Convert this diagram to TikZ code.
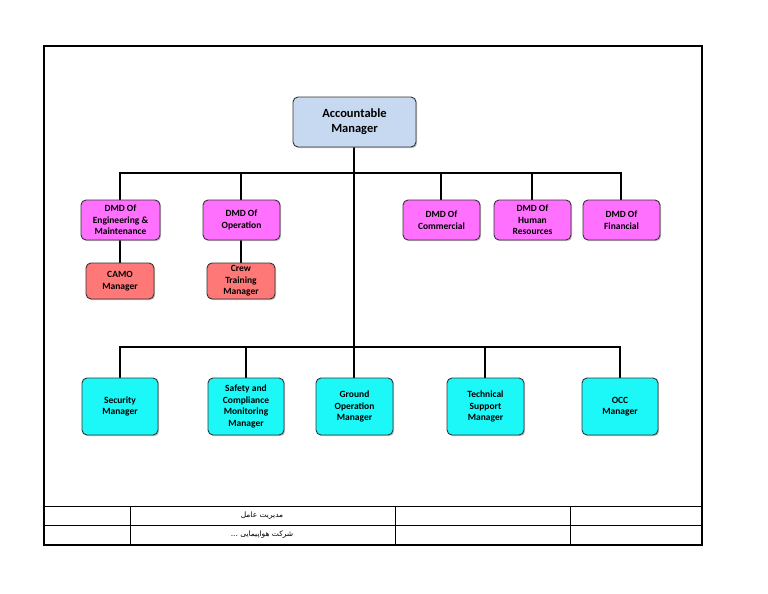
\documentclass[tikz,border=0pt]{standalone}
\usepackage{fontspec}
\setmainfont{Carlito}
\newfontfamily\arabicfont[Script=Arabic]{DejaVu Sans}
\TeXXeTstate=1
\usetikzlibrary{shadows}
\definecolor{amblue}{HTML}{C6D9F1}
\definecolor{dmdmag}{HTML}{FF70FF}
\definecolor{mgrred}{HTML}{FF7878}
\definecolor{mgrcyan}{HTML}{1CF8F8}
\begin{document}
\begin{tikzpicture}[x=1pt,y=-1pt,
  box/.style={draw=black!80, line width=0.9pt, rounded corners=5pt, align=center,
     font=\bfseries\fontsize{9.5}{11.5}\selectfont, inner sep=0pt,
     drop shadow={shadow xshift=1.2pt, shadow yshift=-1.2pt, opacity=0.45}},
  topbox/.style={box, fill=amblue, font=\bfseries\fontsize{12.5}{15}\selectfont},
  dmdbox/.style={box, fill=dmdmag},
  redbox/.style={box, fill=mgrred},
  cyanbox/.style={box, fill=mgrcyan},
  link/.style={line width=2.6pt, black},
  frame/.style={line width=1.4pt, black},
  cell/.style={line width=0.8pt, black}]
\useasboundingbox (0,0) rectangle (768,594);
% frame
\draw[frame] (44,46) rectangle (702,545);
\draw[cell] (44,506) -- (702,506);
\draw[cell] (44,525) -- (702,525);
\foreach \xx in {130,395,570} \draw[cell] (\xx,506) -- (\xx,545);
\node[font=\arabicfont\fontsize{7.5}{8.5}\selectfont] (t1) at (262,515.5) {\beginR مدیریت عامل\endR};
\node[font=\arabicfont\fontsize{7.5}{8.5}\selectfont] (t2) at (262,535) {\beginR شرکت هواپیمایی ...\endR};
% coordinates for buses
\coordinate (busA) at (354,173);
\coordinate (busB) at (354,347);
\coordinate (aL) at (120,173);
\coordinate (aR) at (621,173);
\coordinate (bL) at (120,347);
\coordinate (bR) at (620,347);
% connectors (drawn first)
\draw[link] (354,147) -- (busB);
\draw[link, line cap=rect] (aL) -- (aR);
\draw[link, line cap=rect] (bL) -- (bR);
\foreach \xx in {120,241,441,532,621} \draw[link] (\xx,173) -- (\xx,200);
\draw[link] (120,240) -- (120,263);
\draw[link] (241,240) -- (241,263);
\foreach \xx in {120,246,354,485,620} \draw[link] (\xx,347) -- (\xx,378);
% nodes
\node[topbox, minimum width=123pt, minimum height=50pt] (am) at (354.5,122) {Accountable\\Manager};
\node[dmdbox, minimum width=79pt, minimum height=40pt] (eng) at (120.5,220) {DMD Of\\Engineering \&\\Maintenance};
\node[dmdbox, minimum width=77pt, minimum height=40pt] (op) at (241.5,220) {DMD Of\\Operation};
\node[dmdbox, minimum width=77pt, minimum height=40pt] (com) at (441.5,220) {DMD Of\\Commercial};
\node[dmdbox, minimum width=77pt, minimum height=40pt] (hr) at (532.5,220) {DMD Of\\Human\\Resources};
\node[dmdbox, minimum width=77pt, minimum height=40pt] (fin) at (621.5,220) {DMD Of\\Financial};
\node[redbox, minimum width=68pt, minimum height=36pt] (camo) at (120,281) {CAMO\\Manager};
\node[redbox, minimum width=68pt, minimum height=36pt] (crew) at (241,281) {Crew\\Training\\Manager};
\node[cyanbox, minimum width=76pt, minimum height=57pt] (sec) at (120,406.5) {Security\\Manager};
\node[cyanbox, minimum width=76pt, minimum height=57pt] (saf) at (246,406.5) {Safety and\\Compliance\\Monitoring\\Manager};
\node[cyanbox, minimum width=77pt, minimum height=57pt] (gro) at (354.5,406.5) {Ground\\Operation\\Manager};
\node[cyanbox, minimum width=77pt, minimum height=57pt] (tec) at (485.5,406.5) {Technical\\Support\\Manager};
\node[cyanbox, minimum width=76pt, minimum height=57pt] (occ) at (620,406.5) {OCC\\Manager};
\end{tikzpicture}
\end{document}
